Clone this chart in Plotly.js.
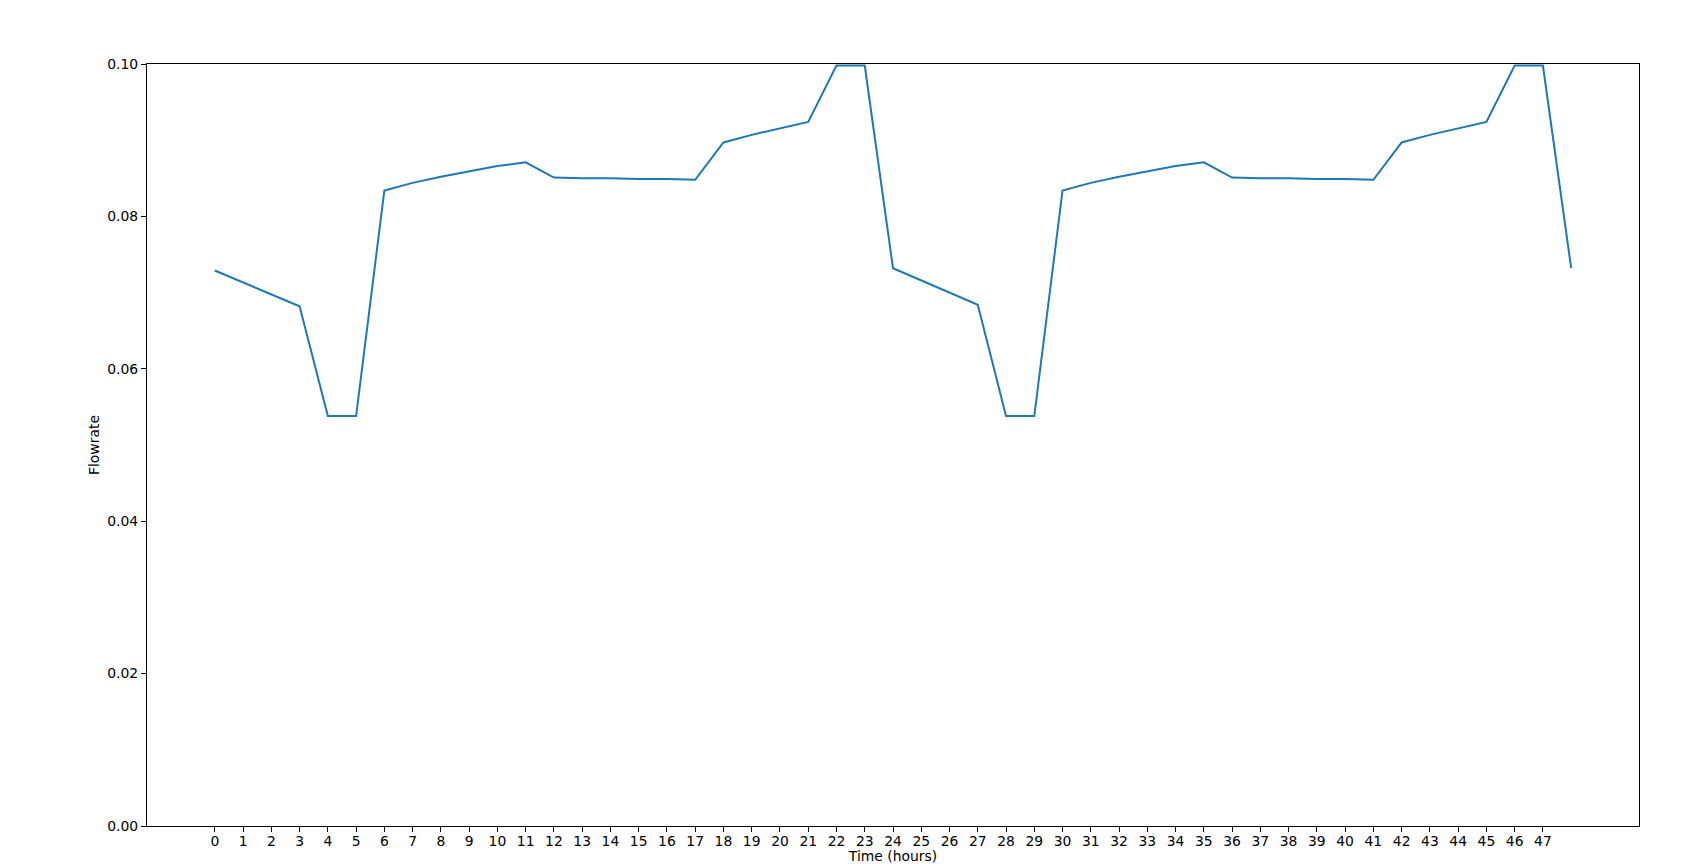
<!DOCTYPE html>
<html>
<head>
<meta charset="utf-8">
<script src="https://cdn.plot.ly/plotly-3.0.1.min.js"></script>
<style>html,body{margin:0;padding:0;background:#fff;}#chart{width:1691px;height:864px;}</style>
</head>
<body>
<div id="chart"></div>
<script>
const hours = [0,1,2,3,4,5,6,7,8,9,10,11,12,13,14,15,16,17,18,19,20,21,22,23,24,
  25,26,27,28,29,30,31,32,33,34,35,36,37,38,39,40,41,42,43,44,45,46,47,48];
const flowrate = [
  0.0729,0.0713,0.0697,0.0682,0.0538,0.0538,0.0834,0.0844,0.0852,0.0859,0.0866,0.0871,
  0.0851,0.0850,0.0850,0.0849,0.0849,0.0848,0.0897,0.0907,0.0916,0.0924,0.0998,0.0998,
  0.0732,0.0716,0.0700,0.0684,0.0538,0.0538,0.0834,0.0844,0.0852,0.0859,0.0866,0.0871,
  0.0851,0.0850,0.0850,0.0849,0.0849,0.0848,0.0897,0.0907,0.0916,0.0924,0.0998,0.0998,
  0.0732
];
const xTickVals = hours.slice(0, 48);
const xTickText = xTickVals.map(String);
const yTickVals = [0, 0.02, 0.04, 0.06, 0.08, 0.10];
const yTickText = ['0.00','0.02','0.04','0.06','0.08','0.10'];

const font = {family: 'DejaVu Sans', size: 13.9, color: '#000'};

Plotly.newPlot('chart', [{
  x: hours, y: flowrate, type: 'scatter', mode: 'lines',
  line: {color: '#1f77b4', width: 2}, hoverinfo: 'x+y'
}], {
  width: 1691, height: 864,
  margin: {l: 147, r: 52, t: 64, b: 38, pad: 0},
  paper_bgcolor: '#fff', plot_bgcolor: '#fff',
  font: font,
  showlegend: false,
  xaxis: {
    range: [-2.4, 50.4], tickmode: 'array', tickvals: xTickVals, ticktext: xTickText,
    showgrid: false, zeroline: false, showline: true, mirror: true,
    linecolor: '#000', linewidth: 1, ticks: 'outside', ticklen: 5, tickwidth: 1, tickcolor: '#000',
    tickfont: font, ticklabelstandoff: -3,
    title: {text: 'Time (hours)', font: font, standoff: 15},
    automargin: false
  },
  yaxis: {
    range: [0, 0.1], tickmode: 'array', tickvals: yTickVals, ticktext: yTickText,
    showgrid: false, zeroline: false, showline: true, mirror: true,
    linecolor: '#000', linewidth: 1, ticks: 'outside', ticklen: 5, tickwidth: 1, tickcolor: '#000',
    tickfont: font,
    title: {text: 'Flowrate', font: font, standoff: 4},
    automargin: false
  }
}, {displayModeBar: false, staticPlot: true});
</script>
</body>
</html>
